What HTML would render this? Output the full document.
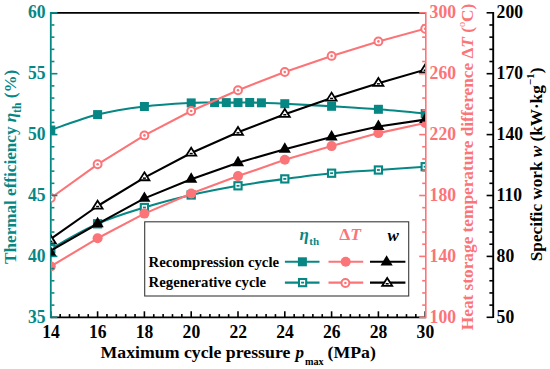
<!DOCTYPE html><html><head><meta charset="utf-8"><style>html,body{margin:0;padding:0;background:#fff;}svg{display:block;}text{font-family:"Liberation Serif",serif;font-weight:bold;}</style></head><body>
<svg width="550" height="369" viewBox="0 0 550 369">
<defs><clipPath id="cp"><rect x="50.9" y="12.800000000000011" width="374.1" height="304.5"/></clipPath></defs>
<line x1="50.8" y1="12.800000000000011" x2="425.8" y2="12.800000000000011" stroke="#000" stroke-width="1.8"/>
<line x1="50.8" y1="317.3" x2="425.8" y2="317.3" stroke="#000" stroke-width="1.8"/>
<line x1="50.80" y1="317.3" x2="50.80" y2="311.3" stroke="#000" stroke-width="1.6"/>
<line x1="60.16" y1="317.3" x2="60.16" y2="314.1" stroke="#000" stroke-width="1.6"/>
<line x1="69.52" y1="317.3" x2="69.52" y2="314.1" stroke="#000" stroke-width="1.6"/>
<line x1="78.88" y1="317.3" x2="78.88" y2="314.1" stroke="#000" stroke-width="1.6"/>
<line x1="88.24" y1="317.3" x2="88.24" y2="314.1" stroke="#000" stroke-width="1.6"/>
<line x1="97.60" y1="317.3" x2="97.60" y2="311.3" stroke="#000" stroke-width="1.6"/>
<line x1="106.96" y1="317.3" x2="106.96" y2="314.1" stroke="#000" stroke-width="1.6"/>
<line x1="116.32" y1="317.3" x2="116.32" y2="314.1" stroke="#000" stroke-width="1.6"/>
<line x1="125.68" y1="317.3" x2="125.68" y2="314.1" stroke="#000" stroke-width="1.6"/>
<line x1="135.04" y1="317.3" x2="135.04" y2="314.1" stroke="#000" stroke-width="1.6"/>
<line x1="144.40" y1="317.3" x2="144.40" y2="311.3" stroke="#000" stroke-width="1.6"/>
<line x1="153.76" y1="317.3" x2="153.76" y2="314.1" stroke="#000" stroke-width="1.6"/>
<line x1="163.12" y1="317.3" x2="163.12" y2="314.1" stroke="#000" stroke-width="1.6"/>
<line x1="172.48" y1="317.3" x2="172.48" y2="314.1" stroke="#000" stroke-width="1.6"/>
<line x1="181.84" y1="317.3" x2="181.84" y2="314.1" stroke="#000" stroke-width="1.6"/>
<line x1="191.20" y1="317.3" x2="191.20" y2="311.3" stroke="#000" stroke-width="1.6"/>
<line x1="200.56" y1="317.3" x2="200.56" y2="314.1" stroke="#000" stroke-width="1.6"/>
<line x1="209.92" y1="317.3" x2="209.92" y2="314.1" stroke="#000" stroke-width="1.6"/>
<line x1="219.28" y1="317.3" x2="219.28" y2="314.1" stroke="#000" stroke-width="1.6"/>
<line x1="228.64" y1="317.3" x2="228.64" y2="314.1" stroke="#000" stroke-width="1.6"/>
<line x1="238.00" y1="317.3" x2="238.00" y2="311.3" stroke="#000" stroke-width="1.6"/>
<line x1="247.36" y1="317.3" x2="247.36" y2="314.1" stroke="#000" stroke-width="1.6"/>
<line x1="256.72" y1="317.3" x2="256.72" y2="314.1" stroke="#000" stroke-width="1.6"/>
<line x1="266.08" y1="317.3" x2="266.08" y2="314.1" stroke="#000" stroke-width="1.6"/>
<line x1="275.44" y1="317.3" x2="275.44" y2="314.1" stroke="#000" stroke-width="1.6"/>
<line x1="284.80" y1="317.3" x2="284.80" y2="311.3" stroke="#000" stroke-width="1.6"/>
<line x1="294.16" y1="317.3" x2="294.16" y2="314.1" stroke="#000" stroke-width="1.6"/>
<line x1="303.52" y1="317.3" x2="303.52" y2="314.1" stroke="#000" stroke-width="1.6"/>
<line x1="312.88" y1="317.3" x2="312.88" y2="314.1" stroke="#000" stroke-width="1.6"/>
<line x1="322.24" y1="317.3" x2="322.24" y2="314.1" stroke="#000" stroke-width="1.6"/>
<line x1="331.60" y1="317.3" x2="331.60" y2="311.3" stroke="#000" stroke-width="1.6"/>
<line x1="340.96" y1="317.3" x2="340.96" y2="314.1" stroke="#000" stroke-width="1.6"/>
<line x1="350.32" y1="317.3" x2="350.32" y2="314.1" stroke="#000" stroke-width="1.6"/>
<line x1="359.68" y1="317.3" x2="359.68" y2="314.1" stroke="#000" stroke-width="1.6"/>
<line x1="369.04" y1="317.3" x2="369.04" y2="314.1" stroke="#000" stroke-width="1.6"/>
<line x1="378.40" y1="317.3" x2="378.40" y2="311.3" stroke="#000" stroke-width="1.6"/>
<line x1="387.76" y1="317.3" x2="387.76" y2="314.1" stroke="#000" stroke-width="1.6"/>
<line x1="397.12" y1="317.3" x2="397.12" y2="314.1" stroke="#000" stroke-width="1.6"/>
<line x1="406.48" y1="317.3" x2="406.48" y2="314.1" stroke="#000" stroke-width="1.6"/>
<line x1="415.84" y1="317.3" x2="415.84" y2="314.1" stroke="#000" stroke-width="1.6"/>
<line x1="425.20" y1="317.3" x2="425.20" y2="311.3" stroke="#000" stroke-width="1.6"/>
<line x1="50.8" y1="11.900000000000011" x2="50.8" y2="318.2" stroke="#078784" stroke-width="1.8"/>
<g clip-path="url(#cp)">
<path d="M50.80,130.00 C58.60,127.43 82.00,118.52 97.60,114.60 C113.20,110.68 128.80,108.45 144.40,106.50 C160.00,104.55 179.50,103.55 191.20,102.90 C202.90,102.25 208.75,102.65 214.60,102.60 C220.45,102.55 222.40,102.60 226.30,102.60 C230.20,102.60 234.10,102.62 238.00,102.60 C241.90,102.58 245.80,102.47 249.70,102.50 C253.60,102.53 255.55,102.60 261.40,102.80 C267.25,103.00 273.10,103.12 284.80,103.70 C296.50,104.28 316.00,105.37 331.60,106.30 C347.20,107.23 362.80,108.08 378.40,109.30 C394.00,110.52 417.40,112.88 425.20,113.60" stroke="#078784" fill="none" stroke-width="2.1" stroke-linejoin="round"/>
<rect x="46.30" y="125.50" width="9.0" height="9.0" fill="#078784"/>
<rect x="93.10" y="110.10" width="9.0" height="9.0" fill="#078784"/>
<rect x="139.90" y="102.00" width="9.0" height="9.0" fill="#078784"/>
<rect x="186.70" y="98.40" width="9.0" height="9.0" fill="#078784"/>
<rect x="210.10" y="98.10" width="9.0" height="9.0" fill="#078784"/>
<rect x="221.80" y="98.10" width="9.0" height="9.0" fill="#078784"/>
<rect x="233.50" y="98.10" width="9.0" height="9.0" fill="#078784"/>
<rect x="245.20" y="98.00" width="9.0" height="9.0" fill="#078784"/>
<rect x="256.90" y="98.30" width="9.0" height="9.0" fill="#078784"/>
<rect x="280.30" y="99.20" width="9.0" height="9.0" fill="#078784"/>
<rect x="327.10" y="101.80" width="9.0" height="9.0" fill="#078784"/>
<rect x="373.90" y="104.80" width="9.0" height="9.0" fill="#078784"/>
<rect x="420.70" y="109.10" width="9.0" height="9.0" fill="#078784"/>
<path d="M50.80,248.80 C58.60,244.63 82.00,230.68 97.60,223.80 C113.20,216.92 128.80,212.30 144.40,207.50 C160.00,202.70 175.60,198.62 191.20,195.00 C206.80,191.38 222.40,188.48 238.00,185.80 C253.60,183.12 269.20,181.00 284.80,178.90 C300.40,176.80 316.00,174.68 331.60,173.20 C347.20,171.72 362.80,171.08 378.40,170.00 C394.00,168.92 417.40,167.25 425.20,166.70" stroke="#078784" fill="none" stroke-width="2.1" stroke-linejoin="round"/>
<rect x="47.20" y="245.20" width="7.2" height="7.2" fill="#fff" stroke="#078784" stroke-width="2.1"/><rect x="49.30" y="247.90" width="3.0" height="1.8" fill="#078784"/>
<rect x="94.00" y="220.20" width="7.2" height="7.2" fill="#fff" stroke="#078784" stroke-width="2.1"/><rect x="96.10" y="222.90" width="3.0" height="1.8" fill="#078784"/>
<rect x="140.80" y="203.90" width="7.2" height="7.2" fill="#fff" stroke="#078784" stroke-width="2.1"/><rect x="142.90" y="206.60" width="3.0" height="1.8" fill="#078784"/>
<rect x="187.60" y="191.40" width="7.2" height="7.2" fill="#fff" stroke="#078784" stroke-width="2.1"/><rect x="189.70" y="194.10" width="3.0" height="1.8" fill="#078784"/>
<rect x="234.40" y="182.20" width="7.2" height="7.2" fill="#fff" stroke="#078784" stroke-width="2.1"/><rect x="236.50" y="184.90" width="3.0" height="1.8" fill="#078784"/>
<rect x="281.20" y="175.30" width="7.2" height="7.2" fill="#fff" stroke="#078784" stroke-width="2.1"/><rect x="283.30" y="178.00" width="3.0" height="1.8" fill="#078784"/>
<rect x="328.00" y="169.60" width="7.2" height="7.2" fill="#fff" stroke="#078784" stroke-width="2.1"/><rect x="330.10" y="172.30" width="3.0" height="1.8" fill="#078784"/>
<rect x="374.80" y="166.40" width="7.2" height="7.2" fill="#fff" stroke="#078784" stroke-width="2.1"/><rect x="376.90" y="169.10" width="3.0" height="1.8" fill="#078784"/>
<rect x="421.60" y="163.10" width="7.2" height="7.2" fill="#fff" stroke="#078784" stroke-width="2.1"/><rect x="423.70" y="165.80" width="3.0" height="1.8" fill="#078784"/>
<path d="M50.80,266.40 L97.60,238.30 L144.40,213.60 L191.20,193.50 L238.00,176.10 L284.80,159.80 L331.60,146.10 L378.40,133.10 L425.20,123.00" stroke="#fb7477" fill="none" stroke-width="2.1" stroke-linejoin="round"/>
<circle cx="50.80" cy="266.40" r="5.0" fill="#fb7477"/>
<circle cx="97.60" cy="238.30" r="5.0" fill="#fb7477"/>
<circle cx="144.40" cy="213.60" r="5.0" fill="#fb7477"/>
<circle cx="191.20" cy="193.50" r="5.0" fill="#fb7477"/>
<circle cx="238.00" cy="176.10" r="5.0" fill="#fb7477"/>
<circle cx="284.80" cy="159.80" r="5.0" fill="#fb7477"/>
<circle cx="331.60" cy="146.10" r="5.0" fill="#fb7477"/>
<circle cx="378.40" cy="133.10" r="5.0" fill="#fb7477"/>
<circle cx="425.20" cy="123.00" r="5.0" fill="#fb7477"/>
<path d="M50.80,198.00 L97.60,164.30 L144.40,135.40 L191.20,111.00 L238.00,90.20 L284.80,72.00 L331.60,55.90 L378.40,41.40 L425.20,28.70" stroke="#fb7477" fill="none" stroke-width="2.1" stroke-linejoin="round"/>
<circle cx="50.80" cy="198.00" r="3.95" fill="#fff" stroke="#fb7477" stroke-width="2.0"/><circle cx="50.80" cy="198.00" r="1.3" fill="#fb7477"/>
<circle cx="97.60" cy="164.30" r="3.95" fill="#fff" stroke="#fb7477" stroke-width="2.0"/><circle cx="97.60" cy="164.30" r="1.3" fill="#fb7477"/>
<circle cx="144.40" cy="135.40" r="3.95" fill="#fff" stroke="#fb7477" stroke-width="2.0"/><circle cx="144.40" cy="135.40" r="1.3" fill="#fb7477"/>
<circle cx="191.20" cy="111.00" r="3.95" fill="#fff" stroke="#fb7477" stroke-width="2.0"/><circle cx="191.20" cy="111.00" r="1.3" fill="#fb7477"/>
<circle cx="238.00" cy="90.20" r="3.95" fill="#fff" stroke="#fb7477" stroke-width="2.0"/><circle cx="238.00" cy="90.20" r="1.3" fill="#fb7477"/>
<circle cx="284.80" cy="72.00" r="3.95" fill="#fff" stroke="#fb7477" stroke-width="2.0"/><circle cx="284.80" cy="72.00" r="1.3" fill="#fb7477"/>
<circle cx="331.60" cy="55.90" r="3.95" fill="#fff" stroke="#fb7477" stroke-width="2.0"/><circle cx="331.60" cy="55.90" r="1.3" fill="#fb7477"/>
<circle cx="378.40" cy="41.40" r="3.95" fill="#fff" stroke="#fb7477" stroke-width="2.0"/><circle cx="378.40" cy="41.40" r="1.3" fill="#fb7477"/>
<circle cx="425.20" cy="28.70" r="3.95" fill="#fff" stroke="#fb7477" stroke-width="2.0"/><circle cx="425.20" cy="28.70" r="1.3" fill="#fb7477"/>
<path d="M50.80,250.60 L97.60,223.80 L144.40,198.40 L191.20,179.20 L238.00,162.70 L284.80,149.20 L331.60,137.00 L378.40,126.50 L425.20,119.60" stroke="#000" fill="none" stroke-width="2.1" stroke-linejoin="round"/>
<path d="M50.80,246.37 L56.90,256.77 L44.70,256.77Z" fill="#000"/>
<path d="M97.60,216.87 L103.70,227.27 L91.50,227.27Z" fill="#000"/>
<path d="M144.40,191.47 L150.50,201.87 L138.30,201.87Z" fill="#000"/>
<path d="M191.20,172.27 L197.30,182.67 L185.10,182.67Z" fill="#000"/>
<path d="M238.00,155.77 L244.10,166.17 L231.90,166.17Z" fill="#000"/>
<path d="M284.80,142.27 L290.90,152.67 L278.70,152.67Z" fill="#000"/>
<path d="M331.60,130.07 L337.70,140.47 L325.50,140.47Z" fill="#000"/>
<path d="M378.40,119.57 L384.50,129.97 L372.30,129.97Z" fill="#000"/>
<path d="M425.20,112.67 L431.30,123.07 L419.10,123.07Z" fill="#000"/>
<path d="M50.80,238.80 L97.60,206.00 L144.40,177.60 L191.20,153.00 L238.00,132.30 L284.80,114.20 L331.60,97.90 L378.40,83.30 L425.20,69.70" stroke="#000" fill="none" stroke-width="2.1" stroke-linejoin="round"/>
<path d="M50.80,235.53 L55.80,243.43 L45.80,243.43Z" fill="#fff" stroke="#000" stroke-width="1.8" stroke-linejoin="miter"/><rect x="49.30" y="240.60" width="3.0" height="1.5" fill="#000"/>
<path d="M97.60,200.73 L102.60,208.63 L92.60,208.63Z" fill="#fff" stroke="#000" stroke-width="1.8" stroke-linejoin="miter"/><rect x="96.10" y="205.80" width="3.0" height="1.5" fill="#000"/>
<path d="M144.40,172.33 L149.40,180.23 L139.40,180.23Z" fill="#fff" stroke="#000" stroke-width="1.8" stroke-linejoin="miter"/><rect x="142.90" y="177.40" width="3.0" height="1.5" fill="#000"/>
<path d="M191.20,147.73 L196.20,155.63 L186.20,155.63Z" fill="#fff" stroke="#000" stroke-width="1.8" stroke-linejoin="miter"/><rect x="189.70" y="152.80" width="3.0" height="1.5" fill="#000"/>
<path d="M238.00,127.03 L243.00,134.93 L233.00,134.93Z" fill="#fff" stroke="#000" stroke-width="1.8" stroke-linejoin="miter"/><rect x="236.50" y="132.10" width="3.0" height="1.5" fill="#000"/>
<path d="M284.80,108.93 L289.80,116.83 L279.80,116.83Z" fill="#fff" stroke="#000" stroke-width="1.8" stroke-linejoin="miter"/><rect x="283.30" y="114.00" width="3.0" height="1.5" fill="#000"/>
<path d="M331.60,92.63 L336.60,100.53 L326.60,100.53Z" fill="#fff" stroke="#000" stroke-width="1.8" stroke-linejoin="miter"/><rect x="330.10" y="97.70" width="3.0" height="1.5" fill="#000"/>
<path d="M378.40,78.03 L383.40,85.93 L373.40,85.93Z" fill="#fff" stroke="#000" stroke-width="1.8" stroke-linejoin="miter"/><rect x="376.90" y="83.10" width="3.0" height="1.5" fill="#000"/>
<path d="M425.20,64.43 L430.20,72.33 L420.20,72.33Z" fill="#fff" stroke="#000" stroke-width="1.8" stroke-linejoin="miter"/><rect x="423.70" y="69.50" width="3.0" height="1.5" fill="#000"/>
</g>
<line x1="51.3" y1="317.30" x2="57.40" y2="317.30" stroke="#078784" stroke-width="1.6"/>
<line x1="51.3" y1="305.12" x2="54.40" y2="305.12" stroke="#078784" stroke-width="1.6"/>
<line x1="51.3" y1="292.94" x2="54.40" y2="292.94" stroke="#078784" stroke-width="1.6"/>
<line x1="51.3" y1="280.76" x2="54.40" y2="280.76" stroke="#078784" stroke-width="1.6"/>
<line x1="51.3" y1="268.58" x2="54.40" y2="268.58" stroke="#078784" stroke-width="1.6"/>
<line x1="51.3" y1="256.40" x2="57.40" y2="256.40" stroke="#078784" stroke-width="1.6"/>
<line x1="51.3" y1="244.22" x2="54.40" y2="244.22" stroke="#078784" stroke-width="1.6"/>
<line x1="51.3" y1="232.04" x2="54.40" y2="232.04" stroke="#078784" stroke-width="1.6"/>
<line x1="51.3" y1="219.86" x2="54.40" y2="219.86" stroke="#078784" stroke-width="1.6"/>
<line x1="51.3" y1="207.68" x2="54.40" y2="207.68" stroke="#078784" stroke-width="1.6"/>
<line x1="51.3" y1="195.50" x2="57.40" y2="195.50" stroke="#078784" stroke-width="1.6"/>
<line x1="51.3" y1="183.32" x2="54.40" y2="183.32" stroke="#078784" stroke-width="1.6"/>
<line x1="51.3" y1="171.14" x2="54.40" y2="171.14" stroke="#078784" stroke-width="1.6"/>
<line x1="51.3" y1="158.96" x2="54.40" y2="158.96" stroke="#078784" stroke-width="1.6"/>
<line x1="51.3" y1="146.78" x2="54.40" y2="146.78" stroke="#078784" stroke-width="1.6"/>
<line x1="51.3" y1="134.60" x2="57.40" y2="134.60" stroke="#078784" stroke-width="1.6"/>
<line x1="51.3" y1="122.42" x2="54.40" y2="122.42" stroke="#078784" stroke-width="1.6"/>
<line x1="51.3" y1="110.24" x2="54.40" y2="110.24" stroke="#078784" stroke-width="1.6"/>
<line x1="51.3" y1="98.06" x2="54.40" y2="98.06" stroke="#078784" stroke-width="1.6"/>
<line x1="51.3" y1="85.88" x2="54.40" y2="85.88" stroke="#078784" stroke-width="1.6"/>
<line x1="51.3" y1="73.70" x2="57.40" y2="73.70" stroke="#078784" stroke-width="1.6"/>
<line x1="51.3" y1="61.52" x2="54.40" y2="61.52" stroke="#078784" stroke-width="1.6"/>
<line x1="51.3" y1="49.34" x2="54.40" y2="49.34" stroke="#078784" stroke-width="1.6"/>
<line x1="51.3" y1="37.16" x2="54.40" y2="37.16" stroke="#078784" stroke-width="1.6"/>
<line x1="51.3" y1="24.98" x2="54.40" y2="24.98" stroke="#078784" stroke-width="1.6"/>
<line x1="51.3" y1="12.80" x2="57.40" y2="12.80" stroke="#078784" stroke-width="1.6"/>
<line x1="425.8" y1="11.900000000000011" x2="425.8" y2="318.2" stroke="#fb7477" stroke-width="1.6"/>
<line x1="425.8" y1="317.30" x2="419.20" y2="317.30" stroke="#fb7477" stroke-width="1.6"/>
<line x1="425.8" y1="305.12" x2="422.20" y2="305.12" stroke="#fb7477" stroke-width="1.6"/>
<line x1="425.8" y1="292.94" x2="422.20" y2="292.94" stroke="#fb7477" stroke-width="1.6"/>
<line x1="425.8" y1="280.76" x2="422.20" y2="280.76" stroke="#fb7477" stroke-width="1.6"/>
<line x1="425.8" y1="268.58" x2="422.20" y2="268.58" stroke="#fb7477" stroke-width="1.6"/>
<line x1="425.8" y1="256.40" x2="419.20" y2="256.40" stroke="#fb7477" stroke-width="1.6"/>
<line x1="425.8" y1="244.22" x2="422.20" y2="244.22" stroke="#fb7477" stroke-width="1.6"/>
<line x1="425.8" y1="232.04" x2="422.20" y2="232.04" stroke="#fb7477" stroke-width="1.6"/>
<line x1="425.8" y1="219.86" x2="422.20" y2="219.86" stroke="#fb7477" stroke-width="1.6"/>
<line x1="425.8" y1="207.68" x2="422.20" y2="207.68" stroke="#fb7477" stroke-width="1.6"/>
<line x1="425.8" y1="195.50" x2="419.20" y2="195.50" stroke="#fb7477" stroke-width="1.6"/>
<line x1="425.8" y1="183.32" x2="422.20" y2="183.32" stroke="#fb7477" stroke-width="1.6"/>
<line x1="425.8" y1="171.14" x2="422.20" y2="171.14" stroke="#fb7477" stroke-width="1.6"/>
<line x1="425.8" y1="158.96" x2="422.20" y2="158.96" stroke="#fb7477" stroke-width="1.6"/>
<line x1="425.8" y1="146.78" x2="422.20" y2="146.78" stroke="#fb7477" stroke-width="1.6"/>
<line x1="425.8" y1="134.60" x2="419.20" y2="134.60" stroke="#fb7477" stroke-width="1.6"/>
<line x1="425.8" y1="122.42" x2="422.20" y2="122.42" stroke="#fb7477" stroke-width="1.6"/>
<line x1="425.8" y1="110.24" x2="422.20" y2="110.24" stroke="#fb7477" stroke-width="1.6"/>
<line x1="425.8" y1="98.06" x2="422.20" y2="98.06" stroke="#fb7477" stroke-width="1.6"/>
<line x1="425.8" y1="85.88" x2="422.20" y2="85.88" stroke="#fb7477" stroke-width="1.6"/>
<line x1="425.8" y1="73.70" x2="419.20" y2="73.70" stroke="#fb7477" stroke-width="1.6"/>
<line x1="425.8" y1="61.52" x2="422.20" y2="61.52" stroke="#fb7477" stroke-width="1.6"/>
<line x1="425.8" y1="49.34" x2="422.20" y2="49.34" stroke="#fb7477" stroke-width="1.6"/>
<line x1="425.8" y1="37.16" x2="422.20" y2="37.16" stroke="#fb7477" stroke-width="1.6"/>
<line x1="425.8" y1="24.98" x2="422.20" y2="24.98" stroke="#fb7477" stroke-width="1.6"/>
<line x1="425.8" y1="12.80" x2="419.20" y2="12.80" stroke="#fb7477" stroke-width="1.6"/>
<line x1="493.2" y1="12.00000000000001" x2="493.2" y2="318.1" stroke="#000" stroke-width="1.9"/>
<line x1="493.2" y1="317.30" x2="486.60" y2="317.30" stroke="#000" stroke-width="1.6"/>
<line x1="493.2" y1="305.12" x2="489.40" y2="305.12" stroke="#000" stroke-width="1.6"/>
<line x1="493.2" y1="292.94" x2="489.40" y2="292.94" stroke="#000" stroke-width="1.6"/>
<line x1="493.2" y1="280.76" x2="489.40" y2="280.76" stroke="#000" stroke-width="1.6"/>
<line x1="493.2" y1="268.58" x2="489.40" y2="268.58" stroke="#000" stroke-width="1.6"/>
<line x1="493.2" y1="256.40" x2="486.60" y2="256.40" stroke="#000" stroke-width="1.6"/>
<line x1="493.2" y1="244.22" x2="489.40" y2="244.22" stroke="#000" stroke-width="1.6"/>
<line x1="493.2" y1="232.04" x2="489.40" y2="232.04" stroke="#000" stroke-width="1.6"/>
<line x1="493.2" y1="219.86" x2="489.40" y2="219.86" stroke="#000" stroke-width="1.6"/>
<line x1="493.2" y1="207.68" x2="489.40" y2="207.68" stroke="#000" stroke-width="1.6"/>
<line x1="493.2" y1="195.50" x2="486.60" y2="195.50" stroke="#000" stroke-width="1.6"/>
<line x1="493.2" y1="183.32" x2="489.40" y2="183.32" stroke="#000" stroke-width="1.6"/>
<line x1="493.2" y1="171.14" x2="489.40" y2="171.14" stroke="#000" stroke-width="1.6"/>
<line x1="493.2" y1="158.96" x2="489.40" y2="158.96" stroke="#000" stroke-width="1.6"/>
<line x1="493.2" y1="146.78" x2="489.40" y2="146.78" stroke="#000" stroke-width="1.6"/>
<line x1="493.2" y1="134.60" x2="486.60" y2="134.60" stroke="#000" stroke-width="1.6"/>
<line x1="493.2" y1="122.42" x2="489.40" y2="122.42" stroke="#000" stroke-width="1.6"/>
<line x1="493.2" y1="110.24" x2="489.40" y2="110.24" stroke="#000" stroke-width="1.6"/>
<line x1="493.2" y1="98.06" x2="489.40" y2="98.06" stroke="#000" stroke-width="1.6"/>
<line x1="493.2" y1="85.88" x2="489.40" y2="85.88" stroke="#000" stroke-width="1.6"/>
<line x1="493.2" y1="73.70" x2="486.60" y2="73.70" stroke="#000" stroke-width="1.6"/>
<line x1="493.2" y1="61.52" x2="489.40" y2="61.52" stroke="#000" stroke-width="1.6"/>
<line x1="493.2" y1="49.34" x2="489.40" y2="49.34" stroke="#000" stroke-width="1.6"/>
<line x1="493.2" y1="37.16" x2="489.40" y2="37.16" stroke="#000" stroke-width="1.6"/>
<line x1="493.2" y1="24.98" x2="489.40" y2="24.98" stroke="#000" stroke-width="1.6"/>
<line x1="493.2" y1="12.80" x2="486.60" y2="12.80" stroke="#000" stroke-width="1.6"/>
<text transform="translate(45.60,322.70) scale(1.0,1.07)" font-size="17.6" fill="#078784" text-anchor="end">35</text>
<text transform="translate(45.60,261.80) scale(1.0,1.07)" font-size="17.6" fill="#078784" text-anchor="end">40</text>
<text transform="translate(45.60,200.90) scale(1.0,1.07)" font-size="17.6" fill="#078784" text-anchor="end">45</text>
<text transform="translate(45.60,140.00) scale(1.0,1.07)" font-size="17.6" fill="#078784" text-anchor="end">50</text>
<text transform="translate(45.60,79.10) scale(1.0,1.07)" font-size="17.6" fill="#078784" text-anchor="end">55</text>
<text transform="translate(45.60,18.20) scale(1.0,1.07)" font-size="17.6" fill="#078784" text-anchor="end">60</text>
<text transform="translate(429.60,322.70) scale(1.0,1.07)" font-size="17.6" fill="#fb7477">100</text>
<text transform="translate(429.60,261.80) scale(1.0,1.07)" font-size="17.6" fill="#fb7477">140</text>
<text transform="translate(429.60,200.90) scale(1.0,1.07)" font-size="17.6" fill="#fb7477">180</text>
<text transform="translate(429.60,140.00) scale(1.0,1.07)" font-size="17.6" fill="#fb7477">220</text>
<text transform="translate(429.60,79.10) scale(1.0,1.07)" font-size="17.6" fill="#fb7477">260</text>
<text transform="translate(429.60,18.20) scale(1.0,1.07)" font-size="17.6" fill="#fb7477">300</text>
<text transform="translate(496.60,322.70) scale(1.0,1.07)" font-size="17.6" fill="#000">50</text>
<text transform="translate(496.60,261.80) scale(1.0,1.07)" font-size="17.6" fill="#000">80</text>
<text transform="translate(496.60,200.90) scale(1.0,1.07)" font-size="17.6" fill="#000">110</text>
<text transform="translate(496.60,140.00) scale(1.0,1.07)" font-size="17.6" fill="#000">140</text>
<text transform="translate(496.60,79.10) scale(1.0,1.07)" font-size="17.6" fill="#000">170</text>
<text transform="translate(496.60,18.20) scale(1.0,1.07)" font-size="17.6" fill="#000">200</text>
<text transform="translate(51.00,337.90) scale(1.0,1.07)" font-size="17.6" fill="#000" text-anchor="middle">14</text>
<text transform="translate(97.80,337.90) scale(1.0,1.07)" font-size="17.6" fill="#000" text-anchor="middle">16</text>
<text transform="translate(144.60,337.90) scale(1.0,1.07)" font-size="17.6" fill="#000" text-anchor="middle">18</text>
<text transform="translate(191.40,337.90) scale(1.0,1.07)" font-size="17.6" fill="#000" text-anchor="middle">20</text>
<text transform="translate(238.20,337.90) scale(1.0,1.07)" font-size="17.6" fill="#000" text-anchor="middle">22</text>
<text transform="translate(285.00,337.90) scale(1.0,1.07)" font-size="17.6" fill="#000" text-anchor="middle">24</text>
<text transform="translate(331.80,337.90) scale(1.0,1.07)" font-size="17.6" fill="#000" text-anchor="middle">26</text>
<text transform="translate(378.60,337.90) scale(1.0,1.07)" font-size="17.6" fill="#000" text-anchor="middle">28</text>
<text transform="translate(425.40,337.90) scale(1.0,1.07)" font-size="17.6" fill="#000" text-anchor="middle">30</text>
<text transform="translate(100.60,358.20) scale(1.046,1.0)" font-size="17" fill="#000">Maximum cycle pressure</text>
<text transform="translate(295.40,358.20)" font-size="17" fill="#000" font-style="italic">p</text>
<text transform="translate(305.00,364.90)" font-size="10.2" fill="#000">max</text>
<text transform="translate(327.60,358.20) scale(1.045,1.0)" font-size="17" fill="#000">(MPa)</text>
<text transform="translate(16.00,263.90) rotate(-90) scale(1.008,1.0)" font-size="17" fill="#078784">Thermal efficiency <tspan font-style="italic">η</tspan><tspan font-size="11.5" dy="5">th</tspan><tspan dy="-5"> (%)</tspan></text>
<text transform="translate(472.60,330.20) rotate(-90) scale(1.017,1.0)" font-size="17" fill="#fb7477">Heat storage temperature difference Δ<tspan font-style="italic">T</tspan> (<tspan font-size="10" dy="-8" font-weight="normal">o</tspan><tspan dy="8">C)</tspan></text>
<text transform="translate(542.00,261.20) rotate(-90) scale(1.01,1.0)" font-size="17" fill="#000">Specific work <tspan font-style="italic">w</tspan> (kW·kg<tspan font-size="11" dy="-8">−1</tspan><tspan dy="8">)</tspan></text>
<rect x="144.7" y="221.8" width="264" height="74.2" fill="#fff" stroke="#3a3a3a" stroke-width="1.1"/>
<text transform="translate(148.60,266.60) scale(1.018,1.0)" font-size="14.5" fill="#000">Recompression cycle</text>
<text transform="translate(148.60,287.00) scale(1.018,1.0)" font-size="14.5" fill="#000">Regenerative cycle</text>
<text transform="translate(299.40,240.40)" font-size="17" fill="#078784"><tspan font-style="italic">η</tspan><tspan font-size="11" dy="4.4" dx="0.6">th</tspan></text>
<text transform="translate(339.20,239.80) scale(1.03,1.0)" font-size="17" fill="#fb7477">Δ<tspan font-style="italic">T</tspan></text>
<text transform="translate(387.40,241.20)" font-size="17" fill="#000"><tspan font-style="italic">w</tspan></text>
<line x1="284.9" y1="261.8" x2="319.5" y2="261.8" stroke="#078784" stroke-width="2.1"/>
<line x1="328.5" y1="261.8" x2="363.2" y2="261.8" stroke="#fb7477" stroke-width="2.1"/>
<line x1="370" y1="261.8" x2="405.4" y2="261.8" stroke="#000" stroke-width="2.1"/>
<rect x="297.90" y="257.30" width="9.0" height="9.0" fill="#078784"/>
<circle cx="345.70" cy="261.80" r="5.0" fill="#fb7477"/>
<path d="M386.60,255.17 L392.70,265.57 L380.50,265.57Z" fill="#000"/>
<line x1="284.9" y1="282.6" x2="319.5" y2="282.6" stroke="#078784" stroke-width="2.1"/>
<line x1="328.5" y1="282.6" x2="363.2" y2="282.6" stroke="#fb7477" stroke-width="2.1"/>
<line x1="370" y1="282.6" x2="405.4" y2="282.6" stroke="#000" stroke-width="2.1"/>
<rect x="299.00" y="279.00" width="7.2" height="7.2" fill="#fff" stroke="#078784" stroke-width="2.1"/><rect x="301.10" y="281.70" width="3.0" height="1.8" fill="#078784"/>
<circle cx="345.40" cy="283.00" r="3.95" fill="#fff" stroke="#fb7477" stroke-width="2.0"/><circle cx="345.40" cy="283.00" r="1.3" fill="#fb7477"/>
<path d="M387.20,277.93 L392.20,285.83 L382.20,285.83Z" fill="#fff" stroke="#000" stroke-width="1.8" stroke-linejoin="miter"/><rect x="385.70" y="283.00" width="3.0" height="1.5" fill="#000"/>
</svg></body></html>
